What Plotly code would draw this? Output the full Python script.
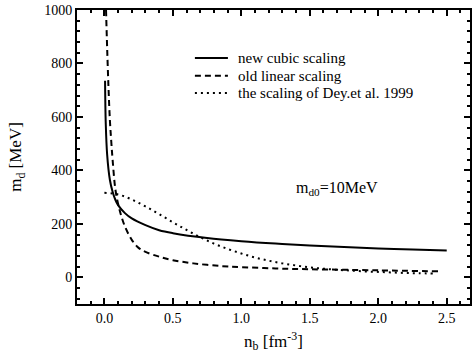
import plotly.graph_objects as go

# new cubic scaling (solid)
cubic_n = [0.005, 0.01, 0.02, 0.04, 0.06, 0.08, 0.1, 0.15, 0.2, 0.3, 0.4, 0.5,
           0.75, 1.0, 1.25, 1.5, 1.75, 2.0, 2.25, 2.5]
cubic_m = [735, 575, 460, 365, 320, 290, 270, 240, 220, 195, 176, 165,
           147, 135, 126, 119, 113, 108, 104, 100]

# old linear scaling (dashed)
linear_n = [0.012, 0.02, 0.03, 0.04, 0.05, 0.06, 0.08, 0.1, 0.12, 0.15, 0.2, 0.25,
            0.3, 0.4, 0.5, 0.65, 0.85, 1.0, 1.25, 1.5, 2.0, 2.45]
linear_m = [1000, 860, 710, 590, 510, 440, 330, 275, 235, 190, 140, 110,
            95, 77, 64, 52, 42, 38, 33, 30, 26, 22]

# scaling of Dey et al. 1999 (dotted)
dey_n = [0.0, 0.1, 0.2, 0.3, 0.4, 0.5, 0.6, 0.7, 0.8, 0.9, 1.0, 1.1, 1.2,
         1.3, 1.4, 1.5, 1.6, 1.7, 1.8, 1.9, 2.0, 2.1, 2.2, 2.3, 2.4]
dey_m = [316, 310, 291, 265, 236, 206, 177, 150, 126, 106, 89, 74, 62,
         52, 44, 37, 32, 28, 25, 22, 20, 18, 16, 15, 14]

names = ["new cubic scaling", "old linear scaling", "the scaling of Dey.et al. 1999"]
dashes = ["solid", "6px,4px", "2px,4px"]
FONT = "Liberation Serif"

fig = go.Figure()
for xs, ys, nm, ds in zip([cubic_n, linear_n, dey_n], [cubic_m, linear_m, dey_m], names, dashes):
    fig.add_trace(go.Scatter(x=xs, y=ys, mode="lines", name=nm, showlegend=False,
                             line=dict(color="black", width=2, dash=ds, shape="spline")))

# manual legend (placed in axis-domain coordinates)
leg_rows = [0.837, 0.776, 0.718]
for nm, ds, yy in zip(names, dashes, leg_rows):
    fig.add_shape(type="line", xref="x domain", yref="y domain", x0=0.300, x1=0.384, y0=yy, y1=yy,
                  line=dict(color="black", width=2, dash=ds))
    fig.add_annotation(xref="x domain", yref="y domain", x=0.405, y=yy, xanchor="left", yanchor="middle",
                       showarrow=False, text=nm, font=dict(family=FONT, size=15, color="black"))

fig.add_annotation(x=1.70, y=333, xref="x", yref="y", showarrow=False,
                   text="m<sub>d0</sub>=10MeV", font=dict(family=FONT, size=16, color="black"))

axis_common = dict(showline=True, linecolor="black", linewidth=2, mirror="allticks",
                   ticks="inside", ticklen=6, tickwidth=1.5, tickcolor="black",
                   showgrid=False, zeroline=False, automargin=False,
                   tickfont=dict(family=FONT, size=14, color="black"))

fig.update_xaxes(range=[-0.2, 2.67], dtick=0.5, tick0=0, tickformat=".1f",
                 minor=dict(dtick=0.1, tick0=0, ticks="inside", ticklen=3, tickcolor="black", tickwidth=1.5),
                 title=dict(text="n<sub>b</sub> [fm<sup>-3</sup>]", font=dict(family=FONT, size=17, color="black"), standoff=10),
                 **axis_common)
fig.update_yaxes(range=[-100, 1000], dtick=200, tick0=0,
                 minor=dict(dtick=40, tick0=0, ticks="inside", ticklen=3, tickcolor="black", tickwidth=1.5),
                 title=dict(text="m<sub>d</sub> [MeV]", font=dict(family=FONT, size=17, color="black"), standoff=18),
                 **axis_common)

fig.update_layout(
    width=474, height=362,
    margin=dict(l=77, r=4, t=10, b=58),
    paper_bgcolor="white", plot_bgcolor="white",
    font=dict(family=FONT, size=13, color="black"),
    showlegend=False,
)

fig.write_html("out.html", config={"displayModeBar": False},
               post_script="document.body.style.margin='0';document.body.style.overflow='hidden';")
